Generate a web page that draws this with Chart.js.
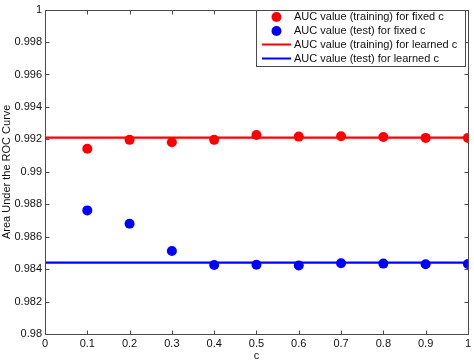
<!DOCTYPE html>
<html>
<head>
<meta charset="utf-8">
<script src="https://cdn.jsdelivr.net/npm/chart.js@4/dist/chart.umd.min.js"></script>
<style>
html,body{margin:0;padding:0;background:#fff;}
canvas{display:block;}
</style>
</head>
<body>
<canvas id="c" width="474" height="362"></canvas>
<script>
// ---- data ----
const cValues = [0.1, 0.2, 0.3, 0.4, 0.5, 0.6, 0.7, 0.8, 0.9, 1.0];
const trainFixed = [0.99142, 0.99197, 0.99182, 0.99197, 0.99227, 0.99217, 0.99219, 0.99215, 0.99209, 0.99209];
const testFixed  = [0.98762, 0.98680, 0.98512, 0.98425, 0.98427, 0.98422, 0.98436, 0.98434, 0.98430, 0.98432];
const trainLearned = 0.99211;
const testLearned = 0.98440;
const seriesLabels = [
  'AUC value (training) for fixed c',
  'AUC value (test) for fixed c',
  'AUC value (training) for learned c',
  'AUC value (test) for learned c'
];
const xTitle = 'c';
const yTitle = 'Area Under the ROC Curve';

const FONT = 'Liberation Sans, Arial, sans-serif';
const FSIZE = 11;
const AXIS = '#4a4a4a';

function fmt(v){ return String(Number(v.toFixed(4))); }

const framePlugin = {
  id: 'frame',
  afterDraw(chart){
    const ctx = chart.ctx, a = chart.chartArea;
    const xs = chart.scales.x, ys = chart.scales.y;
    ctx.save();
    ctx.strokeStyle = AXIS;
    ctx.lineWidth = 1;
    const L = Math.round(a.left)+0.5, R = Math.round(a.right)+0.5, T = Math.round(a.top)+0.5, B = Math.round(a.bottom)+0.5;
    ctx.beginPath();
    ctx.rect(L, T, R-L, B-T);
    ctx.stroke();
    const tl = 4;
    ctx.beginPath();
    xs.ticks.forEach(t => {
      const px = Math.round(xs.getPixelForValue(t.value))+0.5;
      ctx.moveTo(px, B); ctx.lineTo(px, B-tl);
      ctx.moveTo(px, T); ctx.lineTo(px, T+tl);
    });
    ys.ticks.forEach(t => {
      const py = Math.round(ys.getPixelForValue(t.value))+0.5;
      ctx.moveTo(L, py); ctx.lineTo(L+tl, py);
      ctx.moveTo(R, py); ctx.lineTo(R-tl, py);
    });
    ctx.stroke();

    // legend box
    const bx = 256.5, by = 10.5, bw = 209, bh = 56;
    ctx.fillStyle = '#fff';
    ctx.fillRect(bx, by, bw, bh);
    ctx.strokeStyle = AXIS;
    ctx.strokeRect(bx, by, bw, bh);
    const rows = [17, 31, 44.5, 58.5];
    ctx.font = FSIZE + 'px ' + FONT;
    ctx.textBaseline = 'middle';
    ctx.textAlign = 'left';
    chart.data.datasets.forEach((ds, i) => {
      const y = rows[i];
      if (ds.type === 'line') {
        ctx.strokeStyle = ds.borderColor;
        ctx.lineWidth = 2;
        ctx.beginPath();
        ctx.moveTo(262, y); ctx.lineTo(291, y);
        ctx.stroke();
      } else {
        ctx.fillStyle = ds.backgroundColor;
        ctx.beginPath();
        ctx.arc(276.5, y, 5, 0, Math.PI*2);
        ctx.fill();
      }
      ctx.fillStyle = '#111';
      ctx.fillText(ds.label, 294, y);
    });
    ctx.restore();
  }
};

new Chart(document.getElementById('c').getContext('2d'), {
  type: 'scatter',
  data: {
    datasets: [
      { label: seriesLabels[0], data: cValues.map((c,i)=>({x:c, y:trainFixed[i]})),
        backgroundColor:'#ff0000', borderColor:'#ff0000', pointRadius:5, pointBorderWidth:0, showLine:false },
      { label: seriesLabels[1], data: cValues.map((c,i)=>({x:c, y:testFixed[i]})),
        backgroundColor:'#0000ff', borderColor:'#0000ff', pointRadius:5, pointBorderWidth:0, showLine:false },
      { label: seriesLabels[2], type:'line', data:[{x:0,y:trainLearned},{x:1,y:trainLearned}],
        borderColor:'#ff0000', backgroundColor:'#ff0000', borderWidth:2.2, pointRadius:0, showLine:true, fill:false },
      { label: seriesLabels[3], type:'line', data:[{x:0,y:testLearned},{x:1,y:testLearned}],
        borderColor:'#0000ff', backgroundColor:'#0000ff', borderWidth:2.2, pointRadius:0, showLine:true, fill:false }
    ]
  },
  options: {
    responsive:false, animation:false, devicePixelRatio:1,
    layout:{ padding:{ top:4, right:5, left:0, bottom:0 } },
    plugins:{ legend:{display:false}, tooltip:{enabled:false} },
    scales:{
      x:{
        type:'linear', min:0, max:1,
        ticks:{ stepSize:0.1, autoSkip:false, maxRotation:0, padding:3, color:'#111',
          font:{ family:FONT, size:FSIZE }, callback:v=>fmt(v) },
        grid:{ display:false, drawTicks:false }, border:{ display:false },
        title:{ display:true, text:xTitle, color:'#111', font:{ family:FONT, size:FSIZE }, padding:{top:0,bottom:-1} },
        afterFit:s=>{ s.height = 28; }
      },
      y:{
        type:'linear', min:0.98, max:1,
        ticks:{ stepSize:0.002, autoSkip:false, padding:3, color:'#111',
          font:{ family:FONT, size:FSIZE }, callback:v=>fmt(v) },
        grid:{ display:false, drawTicks:false }, border:{ display:false },
        title:{ display:true, text:yTitle, color:'#111', font:{ family:FONT, size:FSIZE }, padding:{top:0,bottom:0} },
        afterFit:s=>{ s.width = 45; }
      }
    }
  },
  plugins:[framePlugin]
});
</script>
</body>
</html>
